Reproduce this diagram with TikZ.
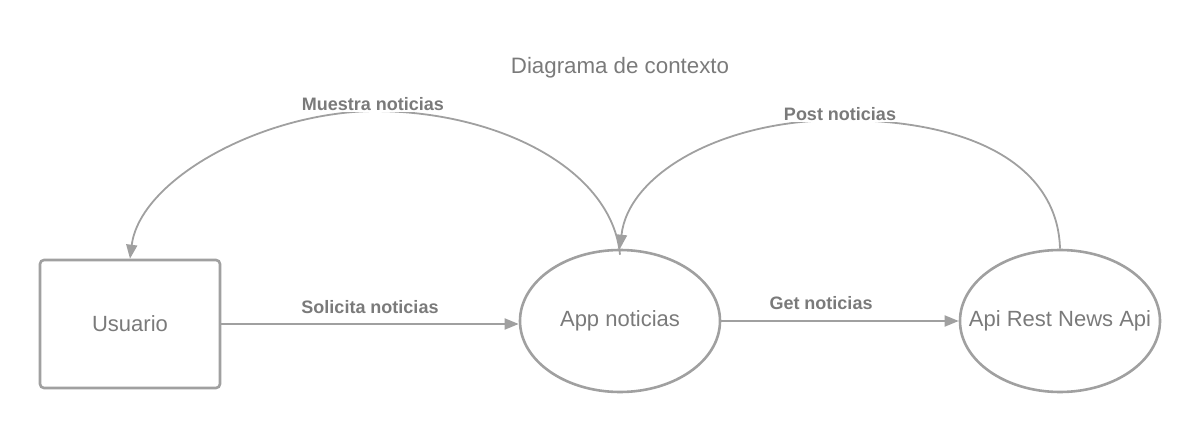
\documentclass[tikz,border=0pt]{standalone}
\usepackage{fontspec}
\setmainfont{Liberation Sans}
\usetikzlibrary{arrows.meta,shapes.geometric}
\definecolor{linec}{RGB}{160,160,160}
\definecolor{textc}{RGB}{122,122,122}
\begin{document}
\begin{tikzpicture}[x=1pt,y=-1pt,
  shapebox/.style={draw=linec,line width=2.6pt,rounded corners=4pt,minimum width=180pt,minimum height=128pt,text=textc,font=\fontsize{22}{26}\selectfont},
  procell/.style={draw=linec,line width=2.6pt,ellipse,minimum width=200pt,minimum height=142pt,inner sep=0pt,text=textc,font=\fontsize{22}{26}\selectfont},
  conn/.style={draw=linec,line width=1.8pt},
  tipped/.style={-{Triangle[length=14pt,width=11pt]}},
  flowlbl/.style={text=textc,font=\bfseries\fontsize{18}{21}\selectfont,inner sep=1pt},
  curvelbl/.style={flowlbl,fill=white},
  titlelbl/.style={text=textc,font=\fontsize{22.3}{26}\selectfont}
]
\useasboundingbox (0,0) rectangle (1200,430);
\node[titlelbl] (title) at (620,68) {Diagrama de contexto};
\node[shapebox] (user) at (130,324) {Usuario};
\node[procell] (app) at (620,321) {\makebox[0pt]{App noticias}};
\node[procell] (api) at (1060,321) {\makebox[0pt]{Api Rest News Api}};
\coordinate (m1) at (373,111);
\coordinate (m2) at (840,120);
% Solicita
\draw[conn,tipped] (user.east |- 0,324) -- (app.west |- 0,324) node[flowlbl,midway,above=8pt] (lsol) {Solicita noticias};
% Get
\draw[conn,tipped] (app.east) -- (api.west) node[flowlbl,pos=0.42,above=9pt] (lget) {Get noticias};
% Muestra
\draw[conn] ([yshift=-6pt]app.north) .. controls (612,170) and (500,111) .. (m1);
\draw[conn,tipped] (m1) .. controls (260,113) and (140,180) .. (user.north);
\node[curvelbl] (lmue) at (373,104) {Muestra noticias};
% Post
\draw[conn] (api.north) .. controls (1058,170) and (980,120) .. (m2);
\draw[conn,tipped] (m2) .. controls (720,120) and (628,175) .. (app.north);
\node[curvelbl] (lpost) at (840,114) {Post noticias};
\end{tikzpicture}
\end{document}
